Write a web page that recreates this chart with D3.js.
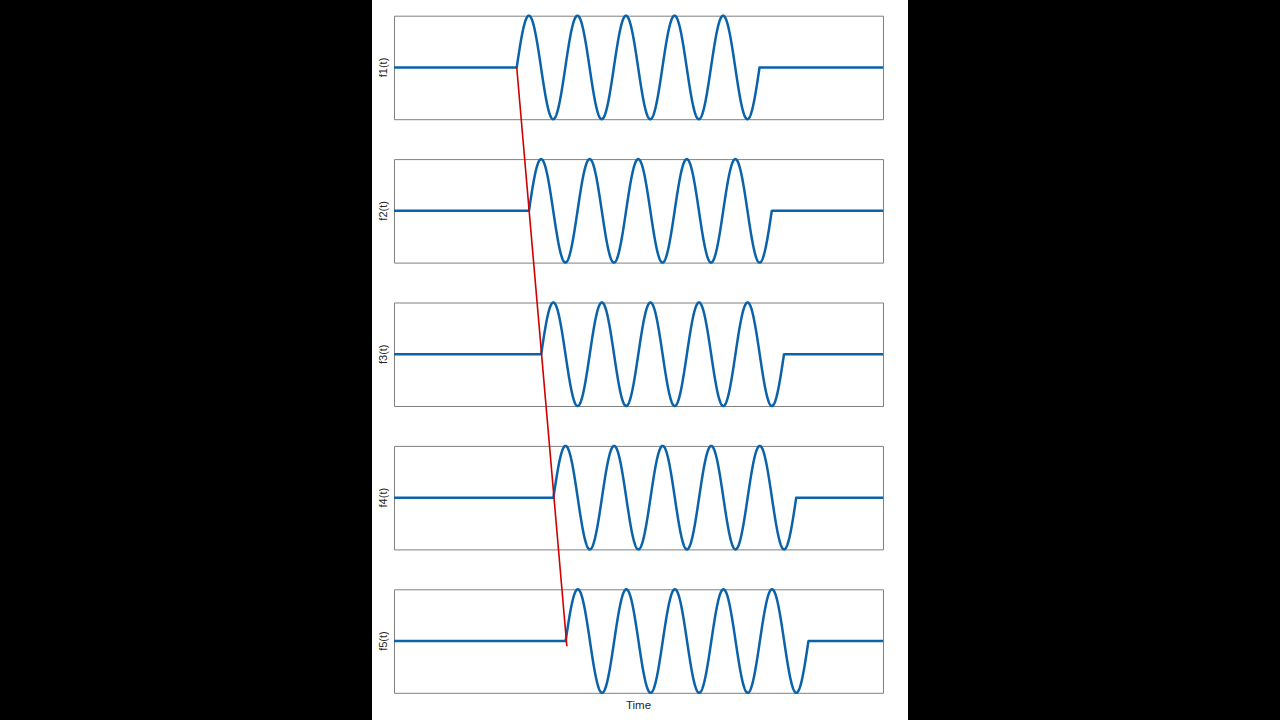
<!DOCTYPE html>
<html>
<head>
<meta charset="utf-8">
<script src="https://cdn.jsdelivr.net/npm/d3@7"></script>
<style>
  html, body { margin: 0; padding: 0; background: #000; }
  svg { display: block; }
</style>
</head>
<body>
<svg id="chart" width="1280" height="720"></svg>
<script>
// ---- data ----
const signalNames = ["f1(t)", "f2(t)", "f3(t)", "f4(t)", "f5(t)"];
const onsetTimes = [0.251, 0.276, 0.301, 0.326, 0.351];   // start of each burst (s)
const burstFreq = 10.07;    // Hz (read from peak spacing)
const burstCycles = 5;      // cycles per burst
const timeDomain = [0, 1];
const valueDomain = [-1, 1];
const xLabel = "Time";
// red delay line: [panel index, time, value]
const delayLineStart = [0, 0.251, 0];
const delayLineEnd = [4, 0.3535, -0.1];

// ---- layout ----
const svg = d3.select("#chart");
svg.append("rect").attr("x", 372).attr("y", 0).attr("width", 536).attr("height", 720).attr("fill", "#fff");

const left = 394, right = 883;
const panelTop0 = 15.7, panelStep = 143.4, panelH = 103.5;

const x = d3.scaleLinear().domain(timeDomain).range([left, right]);
const yScales = signalNames.map((_, i) => {
  const top = panelTop0 + i * panelStep;
  return d3.scaleLinear().domain(valueDomain).range([top + panelH, top]);
});

function burst(t, t0) {
  const dur = burstCycles / burstFreq;
  if (t < t0 || t > t0 + dur) return 0;
  return Math.sin(2 * Math.PI * burstFreq * (t - t0));
}

const times = d3.range(timeDomain[0], timeDomain[1] + 1e-9, 0.0005);

signalNames.forEach((name, i) => {
  const y = yScales[i];
  const g = svg.append("g");
  // axes box (no ticks)
  g.append("g").attr("transform", `translate(0,${y(-1)})`)
    .call(d3.axisBottom(x).tickValues([]).tickSizeOuter(0))
    .call(s => s.select(".domain").attr("stroke", "#808080"));
  g.append("g").attr("transform", `translate(0,${y(1)})`)
    .call(d3.axisTop(x).tickValues([]).tickSizeOuter(0))
    .call(s => s.select(".domain").attr("stroke", "#808080"));
  g.append("g").attr("transform", `translate(${left},0)`)
    .call(d3.axisLeft(y).tickValues([]).tickSizeOuter(0))
    .call(s => s.select(".domain").attr("stroke", "#808080"));
  g.append("g").attr("transform", `translate(${right},0)`)
    .call(d3.axisRight(y).tickValues([]).tickSizeOuter(0))
    .call(s => s.select(".domain").attr("stroke", "#808080"));

  const line = d3.line().x(t => x(t)).y(t => y(burst(t, onsetTimes[i])));
  g.append("path").datum(times).attr("d", line)
    .attr("fill", "none").attr("stroke", "#0a62aa").attr("stroke-width", 2.5)
    .attr("stroke-linejoin", "round");

  g.append("text")
    .attr("transform", `translate(${left - 7.5},${y(0)}) rotate(-90)`)
    .attr("text-anchor", "middle")
    .attr("font-family", "Liberation Sans, Arial, sans-serif")
    .attr("font-size", 11).attr("fill", "#262626")
    .text(name);
});

svg.append("line")
  .attr("x1", x(delayLineStart[1])).attr("y1", yScales[delayLineStart[0]](delayLineStart[2]))
  .attr("x2", x(delayLineEnd[1])).attr("y2", yScales[delayLineEnd[0]](delayLineEnd[2]))
  .attr("stroke", "#d00000").attr("stroke-width", 1.6);

svg.append("text")
  .attr("x", (left + right) / 2).attr("y", 708.5)
  .attr("text-anchor", "middle")
  .attr("font-family", "Liberation Sans, Arial, sans-serif")
  .attr("font-size", 11.5).attr("fill", "#262626")
  .text(xLabel);
</script>
</body>
</html>
